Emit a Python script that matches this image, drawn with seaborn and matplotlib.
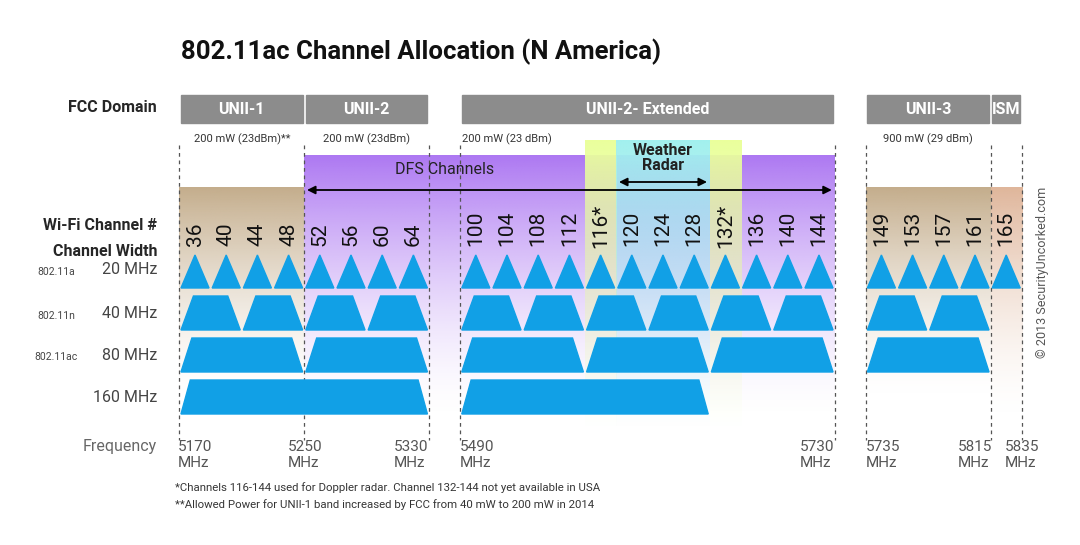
import numpy as np
import matplotlib
matplotlib.use("Agg")
import matplotlib.pyplot as plt
from matplotlib.patches import Polygon, Rectangle
import seaborn as sns

sns.set_theme(style="white")
plt.rcParams["font.family"] = "Roboto"

# ---------------- data ----------------
channel_groups = [[36, 40, 44, 48, 52, 56, 60, 64],
                  [100, 104, 108, 112, 116, 120, 124, 128, 132, 136, 140, 144],
                  [149, 153, 157, 161, 165]]
pairs_40 = [(36, 40), (44, 48), (52, 56), (60, 64), (100, 104), (108, 112), (116, 120),
            (124, 128), (132, 136), (140, 144), (149, 153), (157, 161)]
groups_80 = [(36, 48), (52, 64), (100, 112), (116, 128), (132, 144), (149, 161)]
groups_160 = [(36, 64), (100, 128)]
domains = [("UNII-1", 36, 48), ("UNII-2", 52, 64), ("UNII-2- Extended", 100, 144),
           ("UNII-3", 149, 161), ("ISM", 165, 165)]
powers = [("200 mW (23dBm)**", 36, 48), ("200 mW (23dBm)", 52, 64),
          ("200 mW (23 dBm)", 100, 108), ("900 mW (29 dBm)", 149, 161)]
freq_labels = ["5170", "5250", "5330", "5490", "5730", "5735", "5815", "5835"]
freq_edges = [(36, -1), (48, 1), (64, 1), (100, -1), (144, 1), (149, -1), (161, 1), (165, 1)]
starred = [116, 132]

# slot positions derived from grouping (1 empty slot between groups)
slot = {}
s = 0
for g in channel_groups:
    for ch in g:
        slot[ch] = s
        s += 1
    s += 1

W, H = 1080, 545
X0, DX = 195.0, 31.2
def px(x):
    return (x - X0) / DX

fig = plt.figure(figsize=(W / 100, H / 100), dpi=100)
ax = fig.add_axes([0, 0, 1, 1])
ax.set_xlim(px(0), px(W))
ax.set_ylim(H, 0)
ax.axis("off")

def grad(x0, x1, y0, y1, color, a0, power=1.6, z=0):
    rgb = matplotlib.colors.to_rgb(color)
    n = 200
    arr = np.zeros((n, 2, 4))
    arr[..., :3] = rgb
    t = np.linspace(0, 1, n)
    arr[..., 3] = (a0 * (1 - t) ** power)[:, None]
    ax.imshow(arr, extent=(x0, x1, y1, y0), aspect="auto", zorder=z, interpolation="bilinear")

# background regions
grad(slot[36] - .5, slot[48] + .5, 187, 400, "#c4ad8c", 1)
grad(slot[149] - .5, slot[161] + .5, 187, 400, "#c4ad8c", 1)
grad(slot[165] - .5, slot[165] + .5, 187, 420, "#dcae90", 0.9)
grad(slot[52] - .5, slot[144] + .5, 155, 420, "#ad78f2", 1)
for ch in starred:
    grad(slot[ch] - .5, slot[ch] + .5, 140, 430, "#eaff9c", 1, power=1.2, z=0.5)
grad(slot[120] - .5, slot[128] + .5, 140, 430, "#a2f0ee", 1, power=1.2, z=0.5)

# dashed boundaries
for ch, side in freq_edges:
    x = slot[ch] + 0.5 * side
    ax.plot([x, x], [145, 440], ls=(0, (3, 3)), color="#555555", lw=0.9, zorder=1)

BLUE = "#11a0e6"
# 20 MHz
for g in channel_groups:
    for ch in g:
        c = slot[ch]
        ax.add_patch(Polygon([(c - .45, 288), (c, 255), (c + .45, 288)], color=BLUE, zorder=2))
def trap(a, b, y0, y1, inset):
    xa, xb = slot[a] - .45, slot[b] + .45
    ax.add_patch(Polygon([(xa, y1), (xa + inset, y0), (xb - inset, y0), (xb, y1)], color=BLUE, zorder=2))
for a, b in pairs_40:
    trap(a, b, 296, 330, 0.4)
for a, b in groups_80:
    trap(a, b, 338, 372, 0.35)
for a, b in groups_160:
    trap(a, b, 380, 414, 0.3)

# channel numbers
for g in channel_groups:
    for ch in g:
        lab = f"{ch}*" if ch in starred else str(ch)
        ax.text(slot[ch], 246 if ch not in starred else 248, lab, rotation=90, ha="center", va="bottom",
                fontsize=15, color="#111111", zorder=3)

# domain bars
for name, a, b in domains:
    x0, x1 = slot[a] - .45, slot[b] + .45
    ax.add_patch(Rectangle((x0, 95), x1 - x0, 28, color="#8c8c8c", zorder=2))
    ax.text((x0 + x1) / 2, 109, name, ha="center", va="center", color="white", fontsize=11.5, weight="bold")
for txt, a, b in powers:
    ax.text((slot[a] + slot[b]) / 2, 139, txt, ha="center", va="center", fontsize=8, color="#333333")

# arrows
ax.annotate("", xy=(slot[52] - .5, 190), xytext=(slot[144] + .5, 190),
            arrowprops=dict(arrowstyle="<|-|>", color="black", lw=1.3), zorder=4)
ax.text(px(445), 170, "DFS Channels", ha="center", va="center", fontsize=11.5, color="#222222")
ax.annotate("", xy=(slot[120] - .5, 182), xytext=(slot[128] + .5, 182),
            arrowprops=dict(arrowstyle="<|-|>", color="black", lw=1.3), zorder=4)
ax.text(slot[124], 158, "Weather\nRadar", ha="center", va="center", fontsize=11.5, weight="bold",
        color="#222222", linespacing=1.0)

# left labels
L = px(157)
ax.text(L, 108, "FCC Domain", ha="right", va="center", fontsize=11.5, weight="bold")
ax.text(L, 226, "Wi-Fi Channel #", ha="right", va="center", fontsize=11.5, weight="bold")
ax.text(L, 252, "Channel Width", ha="right", va="center", fontsize=11.5, weight="bold")
for y, std, w in [(270, "802.11a", "20 MHz"), (314, "802.11n", "40 MHz"),
                  (355, "802.11ac", "80 MHz"), (397, "", "160 MHz")]:
    ax.text(L, y, w, ha="right", va="center", fontsize=11.5, color="#444444")
    if std:
        ax.text(px(56), y + 2, std, ha="center", va="center", fontsize=7.5, color="#444444")
ax.text(L, 447, "Frequency", ha="right", va="center", fontsize=11.5, color="#666666")

# frequency labels (left edge offsets in pixels from the boundary line)
label_offsets = [-2, -16, -35, 0, -35, 0, -33, -17]
for lab, (ch, side), off in zip(freq_labels, freq_edges, label_offsets):
    x = slot[ch] + 0.5 * side + off / DX
    ax.text(x, 455, f"{lab}\nMHz", ha="left", va="center", fontsize=11, color="#555555", linespacing=1.1)

# title & notes
ax.text(px(181), 52, "802.11ac Channel Allocation (N America)", ha="left", va="center",
        fontsize=18.5, weight="bold", color="#111111")
ax.text(px(175), 488, "*Channels 116-144 used for Doppler radar. Channel 132-144 not yet available in USA",
        ha="left", va="center", fontsize=8.2, color="#333333")
ax.text(px(175), 505, "**Allowed Power for UNII-1 band increased by FCC from 40 mW to 200 mW in 2014",
        ha="left", va="center", fontsize=8.2, color="#333333")
ax.text(px(1042), 272, "© 2013 SecurityUncorked.com", rotation=90, ha="center", va="center",
        fontsize=9, color="#555555")

fig.savefig("out.png", dpi=100)
